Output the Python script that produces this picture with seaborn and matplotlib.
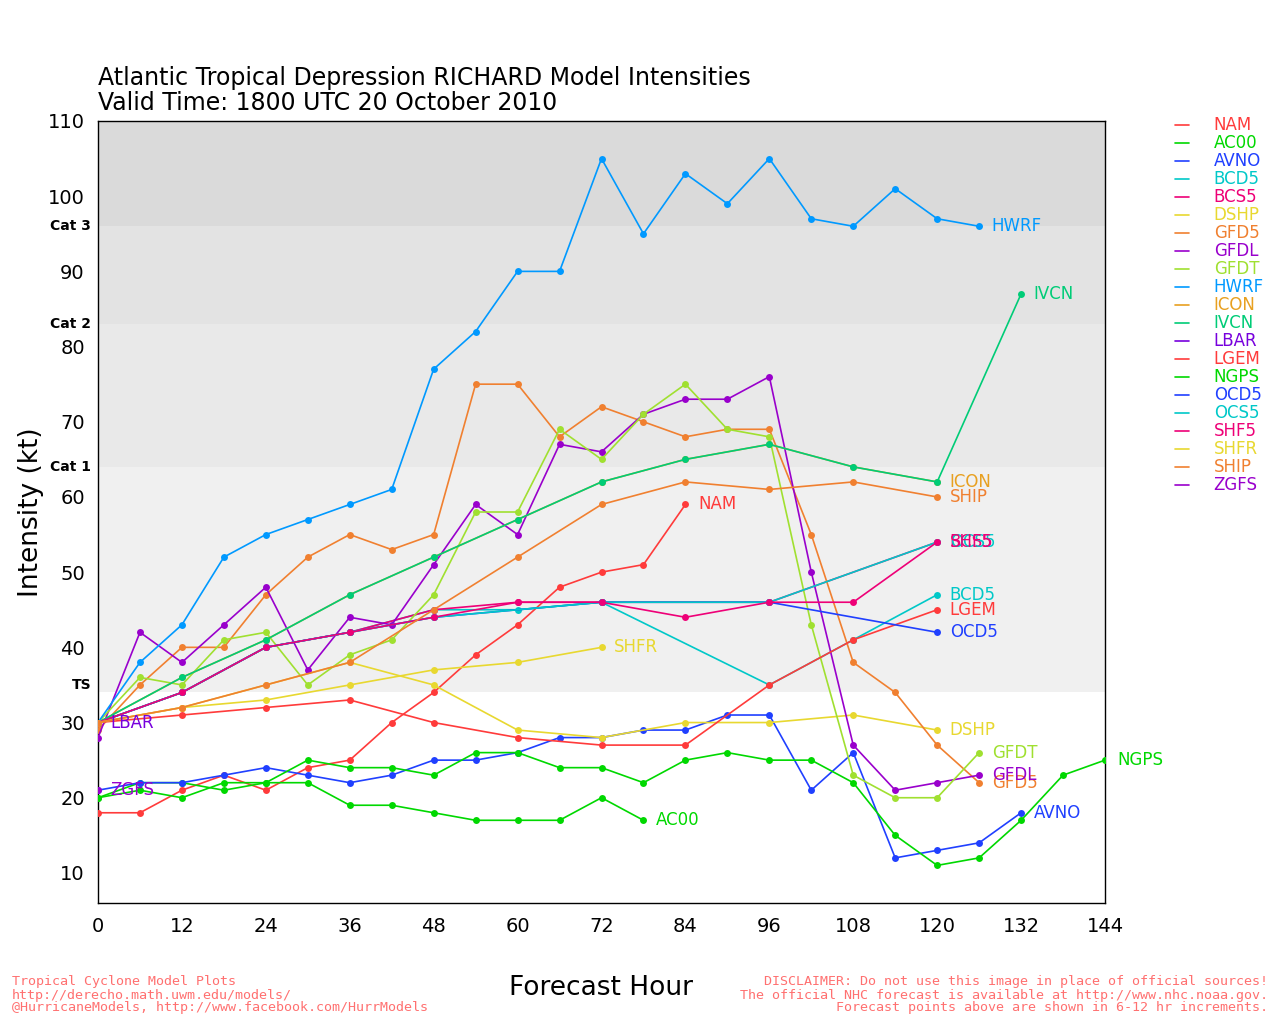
import pandas as pd
import seaborn as sns
import matplotlib
matplotlib.use("Agg")
import matplotlib.pyplot as plt
from matplotlib.lines import Line2D

# forecast hours / intensities (kt) per model
nam_h = list(range(0, 85, 6))
nam_v = [18, 18, 21, 23, 21, 24, 25, 30, 34, 39, 43, 48, 50, 51, 59]
ac00_h = list(range(0, 79, 6))
ac00_v = [20, 22, 22, 21, 22, 22, 19, 19, 18, 17, 17, 17, 20, 17]
avno_h = list(range(0, 133, 6))
avno_v = [21, 22, 22, 23, 24, 23, 22, 23, 25, 25, 26, 28, 28, 29, 29, 31, 31, 21, 26, 12, 13, 14, 18]
bcd5_h = [0, 12, 24, 36, 48, 60, 72, 96, 108, 120]
bcd5_v = [30, 34, 40, 42, 45, 45, 46, 35, 41, 47]
bcs5_h = [0, 12, 24, 36, 48, 60, 72, 96, 120]
bcs5_v = [30, 34, 40, 42, 45, 46, 46, 46, 54]
dshp_h = list(range(0, 121, 12))
dshp_v = [30, 32, 35, 38, 35, 29, 28, 30, 30, 31, 29]
gfd5_h = list(range(0, 127, 6))
gfd5_v = [29, 35, 40, 40, 47, 52, 55, 53, 55, 75, 75, 68, 72, 70, 68, 69, 69, 55, 38, 34, 27, 22]
gfdl_h = list(range(0, 127, 6))
gfdl_v = [28, 42, 38, 43, 48, 37, 44, 43, 51, 59, 55, 67, 66, 71, 73, 73, 76, 50, 27, 21, 22, 23]
gfdt_h = list(range(0, 127, 6))
gfdt_v = [30, 36, 35, 41, 42, 35, 39, 41, 47, 58, 58, 69, 65, 71, 75, 69, 68, 43, 23, 20, 20, 26]
hwrf_h = list(range(0, 127, 6))
hwrf_v = [30, 38, 43, 52, 55, 57, 59, 61, 77, 82, 90, 90, 105, 95, 103, 99, 105, 97, 96, 101, 97, 96]
icon_h = list(range(0, 121, 12))
icon_v = [30, 36, 41, 47, 52, 57, 62, 65, 67, 64, 62]
ivcn_h = list(range(0, 133, 12))
ivcn_v = [30, 36, 41, 47, 52, 57, 62, 65, 67, 64, 62, 87]
lbar_h = [0]
lbar_v = [30]
lgem_h = list(range(0, 121, 12))
lgem_v = [30, 31, 32, 33, 30, 28, 27, 27, 35, 41, 45]
ngps_h = list(range(0, 145, 6))
ngps_v = [20, 21, 20, 22, 22, 25, 24, 24, 23, 26, 26, 24, 24, 22, 25, 26, 25, 25, 22, 15, 11, 12, 17, 23, 25]
ocd5_h = [0, 12, 24, 36, 48, 72, 96, 120]
ocd5_v = [30, 34, 40, 42, 44, 46, 46, 42]
ocs5_h = [0, 12, 24, 36, 48, 72, 96, 120]
ocs5_v = [30, 34, 40, 42, 44, 46, 46, 54]
shf5_h = list(range(0, 121, 12))
shf5_v = [30, 34, 40, 42, 44, 46, 46, 44, 46, 46, 54]
shfr_h = list(range(0, 73, 12))
shfr_v = [30, 32, 33, 35, 37, 38, 40]
ship_h = list(range(0, 121, 12))
ship_v = [30, 32, 35, 38, 45, 52, 59, 62, 61, 62, 60]
zgfs_h = [0]
zgfs_v = [21]

models = ["NAM", "AC00", "AVNO", "BCD5", "BCS5", "DSHP", "GFD5", "GFDL", "GFDT", "HWRF", "ICON",
          "IVCN", "LBAR", "LGEM", "NGPS", "OCD5", "OCS5", "SHF5", "SHFR", "SHIP", "ZGFS"]
hours = [nam_h, ac00_h, avno_h, bcd5_h, bcs5_h, dshp_h, gfd5_h, gfdl_h, gfdt_h, hwrf_h, icon_h,
         ivcn_h, lbar_h, lgem_h, ngps_h, ocd5_h, ocs5_h, shf5_h, shfr_h, ship_h, zgfs_h]
values = [nam_v, ac00_v, avno_v, bcd5_v, bcs5_v, dshp_v, gfd5_v, gfdl_v, gfdt_v, hwrf_v, icon_v,
          ivcn_v, lbar_v, lgem_v, ngps_v, ocd5_v, ocs5_v, shf5_v, shfr_v, ship_v, zgfs_v]
colors = ["#ff3b3b", "#00d800", "#2040ff", "#00c8c8", "#ee0077", "#e8d830", "#f08030", "#9900cc",
          "#a0e030", "#0099ff", "#e8a020", "#00cc77", "#7700dd", "#ff3b3b", "#00d800", "#2040ff",
          "#00c8c8", "#ee0077", "#e8d830", "#f08030", "#9900cc"]

# intensity category bands
band_lo = [96, 83, 64, 34]
band_hi = [110, 96, 83, 64]
band_col = ["#dadada", "#e3e3e3", "#e9e9e9", "#f0f0f0"]
cat_names = ["Cat 3", "Cat 2", "Cat 1", "TS"]

sns.set_style("white")
plt.rcParams['font.family'] = ['DejaVu Sans']
plt.rcParams['text.color'] = 'black'
plt.rcParams['axes.labelcolor'] = 'black'

fig = plt.figure(figsize=(12.8, 10.24), dpi=100)
ax = fig.add_axes([98 / 1280, 121 / 1024, 1007 / 1280, 782 / 1024])

for lo, hi, c in zip(band_lo, band_hi, band_col):
    ax.axhspan(lo, hi, color=c, lw=0, zorder=0)

for name, h, v, c in zip(models, hours, values, colors):
    df = pd.DataFrame({"hour": h, "kt": v})
    sns.lineplot(data=df, x="hour", y="kt", color=c, marker="o", markersize=5,
                 markeredgewidth=0, linewidth=1.2, ax=ax, zorder=3)
    ax.text(h[-1] + 1.8, v[-1], name, color=c, fontsize=12, va="center", ha="left", zorder=4)

ax.set_xlim(0, 144)
ax.set_ylim(6, 110)
ax.set_xticks(range(0, 145, 12))
ax.set_yticks(range(10, 111, 10))
ax.tick_params(axis="both", labelsize=14, length=6, width=1, direction="out",
               colors="black", labelcolor="black")
ax.tick_params(axis="x", pad=4)
for s in ax.spines.values():
    s.set_color("black")
    s.set_linewidth(1)
ax.set_xlabel("")
ax.set_ylabel("Intensity (kt)", fontsize=19, labelpad=3)

for lo, name in zip(band_lo, cat_names):
    ax.text(-1.0, lo, name, transform=ax.transData, fontsize=10, fontweight="bold",
            ha="right", va="bottom" if name == "TS" else "center", clip_on=False)

fig.text(98 / 1280, 1 - 78 / 1024, "Atlantic Tropical Depression RICHARD Model Intensities",
         fontsize=17, ha="left", va="center")
fig.text(98 / 1280, 1 - 103 / 1024, "Valid Time: 1800 UTC 20 October 2010",
         fontsize=17, ha="left", va="center")
fig.text(601 / 1280, 1 - 988 / 1024, "Forecast Hour", fontsize=19, ha="center", va="center")

foot = "#ff7070"
left_lines = ["Tropical Cyclone Model Plots", "http://derecho.math.uwm.edu/models/",
              "@HurricaneModels, http://www.facebook.com/HurrModels"]
right_lines = ["DISCLAIMER: Do not use this image in place of official sources!",
               "The official NHC forecast is available at http://www.nhc.noaa.gov.",
               "Forecast points above are shown in 6-12 hr increments."]
for i, (l, r) in enumerate(zip(left_lines, right_lines)):
    yy = 1 - (982 + 13 * i) / 1024
    fig.text(12 / 1280, yy, l, fontsize=9.6, color=foot, ha="left", va="center",
             family="DejaVu Sans Mono")
    fig.text(1268 / 1280, yy, r, fontsize=9.6, color=foot, ha="right", va="center",
             family="DejaVu Sans Mono")

handles = [Line2D([0], [0], color=c, lw=1.2) for c in colors]
fig.legend(handles, models, loc="upper left", bbox_to_anchor=(1167 / 1280, 1 - 108 / 1024),
           frameon=False, fontsize=12, handlelength=0.8, handletextpad=1.5,
           labelspacing=0.0, labelcolor=colors, borderpad=0)

fig.savefig("out.png", dpi=100)
plt.close(fig)
